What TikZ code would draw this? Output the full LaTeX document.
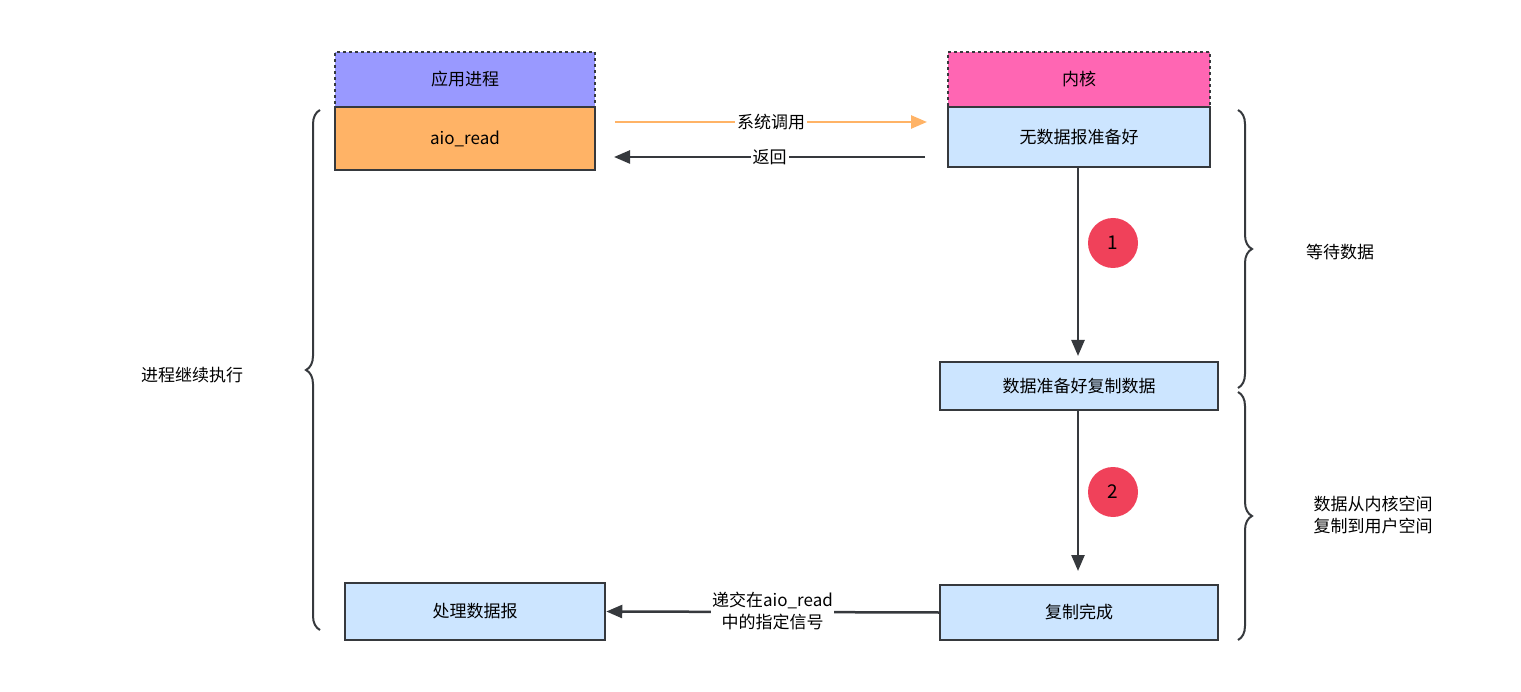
\documentclass[tikz,border=0pt]{standalone}
\usepackage{fontspec}
\setmainfont{Noto Sans CJK SC}
\usetikzlibrary{arrows.meta,decorations.pathreplacing}
\definecolor{bd}{HTML}{36393D}
\definecolor{blu}{HTML}{CCE5FF}
\definecolor{org}{HTML}{FFB366}
\definecolor{pur}{HTML}{9999FF}
\definecolor{pnk}{HTML}{FF66B3}
\definecolor{rd}{HTML}{F0415A}
\begin{document}
\begin{tikzpicture}[x=1pt,y=-1pt,
  box/.style={draw=bd,line width=2.5pt,minimum height=#1,font=\fontsize{17}{20}\selectfont,inner sep=0pt},
  dbox/.style={box=#1,dash pattern=on 3pt off 3pt},
  arr/.style={line width=2.5pt,-{Triangle[length=16pt,width=13pt]}},
  lab/.style={fill=white,inner sep=2pt,font=\fontsize{17}{20}\selectfont},
  txt/.style={font=\fontsize{17}{22}\selectfont,align=center},
  br/.style={draw=bd,line width=2pt,decorate,decoration={brace,amplitude=14pt}},
  num/.style={circle,fill=rd,minimum size=50pt,inner sep=0pt,font=\fontsize{19}{20}\selectfont}]
\useasboundingbox (0,0) rectangle (1521,692);
\node[dbox=55pt,fill=pur,minimum width=260pt] (app) at (465,79.5) {应用进程};
\node[box=63pt,fill=org,minimum width=260pt] (aio) at (465,138.5) {aio\_read};
\node[dbox=55pt,fill=pnk,minimum width=262pt] (ker) at (1079,79.5) {内核};
\node[box=60pt,fill=blu,minimum width=262pt] (nod) at (1079,137) {无数据报准备好};
\node[box=48pt,fill=blu,minimum width=278pt] (rdy) at (1079,386) {数据准备好复制数据};
\node[box=55pt,fill=blu,minimum width=278pt] (cpd) at (1079,612.5) {复制完成};
\node[box=57pt,fill=blu,minimum width=260pt] (prc) at (475,611.5) {处理数据报};
\coordinate (s1) at (615,122); \coordinate (e1) at (927,122);
\coordinate (s2) at (925,157); \coordinate (e2) at (614,157);
\draw[arr,draw=org,line width=2.5pt,-{Triangle[length=16pt,width=13pt,fill=org]}] (s1) -- node[lab]{系统调用} (e1);
\draw[arr,draw=bd] (s2) -- node[lab]{返回} (e2);
\draw[arr,draw=bd] (nod.south -| 1078,0) -- (1078,356);
\draw[arr,draw=bd] (rdy.south -| 1078,0) -- (1078,571);
\draw[arr,draw=bd] (cpd.west) -- node[lab,txt,inner sep=1pt,yshift=1pt]{递交在aio\_read\\中的指定信号} (prc.east);
\node[num] (n1) at (1113,243) {1};
\node[num] (n2) at (1113,492) {2};
\draw[br] (320,630) -- (320,110);
\draw[br] (1238,110) -- (1238,388);
\draw[br] (1238,392) -- (1238,640);
\node[txt] (l1) at (192,375) {进程继续执行};
\node[txt] (l2) at (1340,252) {等待数据};
\node[txt] (l3) at (1373,515) {数据从内核空间\\复制到用户空间};
\end{tikzpicture}
\end{document}
